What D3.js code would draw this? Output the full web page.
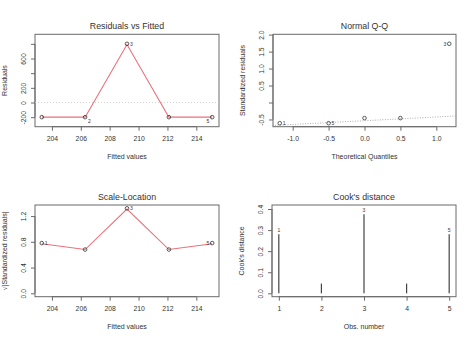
<!DOCTYPE html>
<html><head><meta charset="utf-8">
<script src="https://cdn.jsdelivr.net/npm/d3@7"></script>
<style>body{margin:0;background:#fff}svg{display:block}text{font-family:"Liberation Sans",Arial,sans-serif;fill:#333}</style>
</head><body><svg id="c" width="474" height="341"></svg>
<script>
// ---- data ----
const fitted = [203.3, 206.3, 209.2, 212.1, 215.1];
const residuals = [-200, -200, 800, -200, -200];
const resSmooth = [-200, -200, 790, -200, -200];
const resLabels = [{i:1, t:"2", side:"r", dy:4}, {i:2, t:"3", side:"r", dy:0}, {i:4, t:"5", side:"l", dy:4}];
const fittedTicks = [204, 206, 208, 210, 212, 214];
const resTicks = [-200, 0, 200, 400, 600, 800];
const resTickLabels = ["-200", "0", "200", "", "600", ""];

const theoQ = [-1.18, -0.50, 0.0, 0.50, 1.18];
const stdRes = [-0.61, -0.61, -0.46, -0.46, 1.73];
const qqLabels = [{i:0, t:"1", side:"r"}, {i:1, t:"5", side:"r"}, {i:4, t:"3", side:"l"}];
const qqLine = [[-1.28, -0.678], [1.28, -0.396]];
const qqXTicks = [-1.0, -0.5, 0.0, 0.5, 1.0];
const qqXTickLabels = ["-1.0", "-0.5", "0.0", "0.5", "1.0"];
const qqYTicks = [-0.5, 0.0, 0.5, 1.0, 1.5, 2.0];
const qqYTickLabels = ["-0.5", "", "0.5", "1.0", "1.5", "2.0"];

const sqrtStdRes = [0.78, 0.68, 1.32, 0.68, 0.78];
const slSmooth = [0.77, 0.68, 1.31, 0.68, 0.77];
const slLabels = [{i:0, t:"1", side:"r"}, {i:2, t:"3", side:"r"}, {i:4, t:"5", side:"l"}];
const slTicks = [0.0, 0.4, 0.8, 1.2];
const slTickLabels = ["0.0", "0.4", "0.8", "1.2"];

const obs = [1, 2, 3, 4, 5];
const cooks = [0.28, 0.046, 0.375, 0.046, 0.28];
const cookLabels = [{i:0, t:"1"}, {i:2, t:"3"}, {i:4, t:"5"}];
const cookYTicks = [0.0, 0.1, 0.2, 0.3, 0.4];
const cookYTickLabels = ["0.0", "0.1", "0.2", "0.3", "0.4"];

// ---- drawing ----
const svg = d3.select("#c");
const RED = "#ec6f7a", BOX = "#6a6a6a", INK = "#333";

function panel(o) {
  const g = svg.append("g");
  const x = d3.scaleLinear().domain(o.xd).range([o.x0, o.x1]);
  const y = d3.scaleLinear().domain(o.yd).range([o.y1, o.y0]);
  const xa = d3.axisBottom(x).tickValues(o.xt).tickSize(4).tickFormat((d,i)=>o.xtl ? o.xtl[i] : d);
  const gx = g.append("g").attr("transform", `translate(0,${o.y1})`).call(xa);
  gx.select(".domain").attr("d", `M${x(o.xt[0])},0H${x(o.xt[o.xt.length-1])}`).attr("stroke", BOX);
  gx.selectAll(".tick line").attr("stroke", BOX);
  gx.selectAll(".tick text").attr("y", 9).attr("dy", "0.71em").style("font-size", "6.8px").style("font-family", '"Liberation Sans",Arial,sans-serif').attr("fill", INK);
  const ya = d3.axisLeft(y).tickValues(o.yt).tickSize(4).tickFormat((d,i)=>o.ytl[i]);
  const gy = g.append("g").attr("transform", `translate(${o.x0},0)`).call(ya);
  gy.select(".domain").attr("d", `M0,${y(o.yt[0])}V${y(o.yt[o.yt.length-1])}`).attr("stroke", BOX);
  gy.selectAll(".tick line").attr("stroke", BOX);
  gy.selectAll(".tick text").attr("x", null).attr("text-anchor", "middle")
     .attr("transform", "translate(-11.5,0) rotate(-90)").attr("dy", "0.35em")
     .style("font-size", "6.8px").style("font-family", '"Liberation Sans",Arial,sans-serif').attr("fill", INK);
  g.append("rect").attr("x", o.x0).attr("y", o.y0).attr("width", o.x1 - o.x0).attr("height", o.y1 - o.y0)
    .attr("fill", "none").attr("stroke", BOX).attr("stroke-width", 1);
  const cx = (o.x0 + o.x1) / 2, cy = (o.y0 + o.y1) / 2;
  g.append("text").attr("x", cx).attr("y", o.y0 - 5.5).attr("text-anchor", "middle").style("font-size", "8.8px").text(o.title);
  g.append("text").attr("x", cx).attr("y", o.y1 + 32.5).attr("text-anchor", "middle").style("font-size", "7px").text(o.xlab);
  g.append("text").attr("transform", `translate(${o.x0 - 30},${cy}) rotate(-90)`).attr("dy", "0.35em").attr("text-anchor", "middle").style("font-size", "7px").text(o.ylab);
  return {g, x, y};
}

function points(p, xs, ys) {
  p.g.selectAll(null).data(xs).join("circle")
    .attr("cx", d => p.x(d)).attr("cy", (d,i) => p.y(ys[i])).attr("r", 1.8)
    .attr("fill", "none").attr("stroke", INK).attr("stroke-width", 0.8);
}
function labels(p, xs, ys, labs) {
  p.g.selectAll(null).data(labs).join("text")
    .attr("x", d => p.x(xs[d.i]) + (d.side === "l" ? -3 : 3))
    .attr("y", d => p.y(ys[d.i]) + (d.dy || 0))
    .attr("dy", "0.35em").attr("text-anchor", d => d.side === "l" ? "end" : "start")
    .style("font-size", "5px").attr("fill", "#444").text(d => d.t);
}
function smooth(p, xs, ys) {
  p.g.append("path").datum(xs)
    .attr("d", d3.line().x(d => p.x(d)).y((d,i) => p.y(ys[i])))
    .attr("fill", "none").attr("stroke", RED).attr("stroke-width", 1.1);
}

// 1. Residuals vs Fitted
const p1 = panel({x0:35, x1:219, y0:34.3, y1:126.7, xd:[202.83, 215.57], yd:[-330, 930],
  xt:fittedTicks, yt:resTicks, ytl:resTickLabels, title:"Residuals vs Fitted", xlab:"Fitted values", ylab:"Residuals"});
p1.g.append("line").attr("x1", p1.x.range()[0]).attr("x2", p1.x.range()[1]).attr("y1", p1.y(0)).attr("y2", p1.y(0))
  .attr("stroke", "#c8c8c8").attr("stroke-dasharray", "1,2").attr("stroke-width", 0.8);
smooth(p1, fitted, resSmooth);
points(p1, fitted, residuals);
labels(p1, fitted, residuals, resLabels);

// 2. Normal Q-Q
const p2 = panel({x0:273, x1:456, y0:34.3, y1:126.7, xd:[-1.274, 1.274], yd:[-0.713, 2.009],
  xt:qqXTicks, xtl:qqXTickLabels, yt:qqYTicks, ytl:qqYTickLabels, title:"Normal Q-Q", xlab:"Theoretical Quantiles", ylab:"Standardized residuals"});
p2.g.append("line").attr("x1", p2.x(qqLine[0][0])).attr("x2", p2.x(qqLine[1][0])).attr("y1", p2.y(qqLine[0][1])).attr("y2", p2.y(qqLine[1][1]))
  .attr("stroke", "#999").attr("stroke-dasharray", "1,1.5").attr("stroke-width", 0.8);
points(p2, theoQ, stdRes);
labels(p2, theoQ, stdRes, qqLabels);

// 3. Scale-Location
const p3 = panel({x0:35, x1:219, y0:205, y1:296.7, xd:[202.83, 215.57], yd:[-0.053, 1.372],
  xt:fittedTicks, yt:slTicks, ytl:slTickLabels, title:"Scale-Location", xlab:"Fitted values", ylab:"√|Standardized residuals|"});
smooth(p3, fitted, slSmooth);
points(p3, fitted, sqrtStdRes);
labels(p3, fitted, sqrtStdRes, slLabels);

// 4. Cook's distance
const p4 = panel({x0:272, x1:456, y0:205, y1:296.7, xd:[0.84, 5.16], yd:[-0.016, 0.419],
  xt:obs, yt:cookYTicks, ytl:cookYTickLabels, title:"Cook's distance", xlab:"Obs. number", ylab:"Cook's distance"});
p4.g.selectAll(null).data(obs).join("line")
  .attr("x1", d => p4.x(d)).attr("x2", d => p4.x(d))
  .attr("y1", p4.y(0)).attr("y2", (d,i) => p4.y(cooks[i]))
  .attr("stroke", "#444").attr("stroke-width", 1.2);
p4.g.selectAll(null).data(cookLabels).join("text")
  .attr("x", d => p4.x(obs[d.i])).attr("y", d => p4.y(cooks[d.i]) - 2)
  .attr("text-anchor", "middle").style("font-size", "5px").attr("fill", "#444").text(d => d.t);
</script></body></html>
